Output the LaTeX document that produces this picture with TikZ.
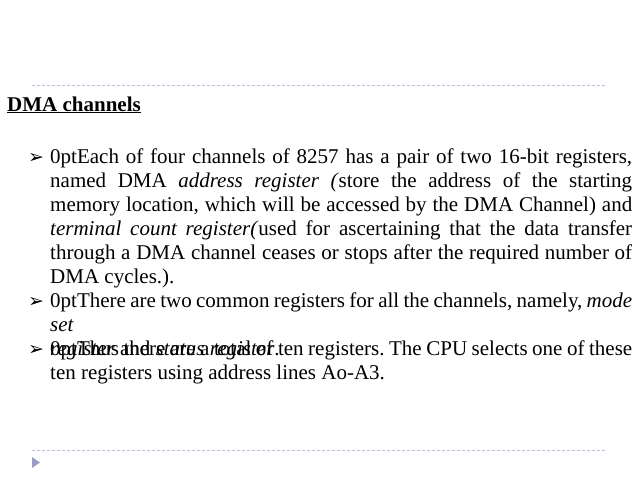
\documentclass[tikz,border=0pt]{standalone}
\usepackage{fontspec}
\setmainfont{Liberation Serif}
\newfontfamily\symfont{DejaVu Sans}
\begin{document}
\begin{tikzpicture}[x=1pt,y=-1pt,
  rule/.style={draw=blue!25!gray!40, dash pattern=on 3pt off 2pt, line width=0.8pt},
  para/.style={anchor=base west, inner sep=0pt, text width=582pt, align=justify, font=\fontsize{21}{24}\selectfont\frenchspacing\hyphenpenalty=10000\relax},
  bulletmark/.style={anchor=base west, inner sep=0pt, font=\fontsize{19}{24}\symfont}]
\useasboundingbox (0,0) rectangle (638,493);
\coordinate (t1) at (32,85); \coordinate (t2) at (605,85);
\draw[rule] (t1) -- (t2);
\coordinate (b1) at (32,450); \coordinate (b2) at (605,450);
\draw[rule] (b1) -- (b2);
\fill[fill=blue!30!gray!60] (32,457) -- (40,462.5) -- (32,468) -- cycle;
\node[anchor=base west, inner sep=0pt, font=\fontsize{21}{24}\selectfont\bfseries] (h) at (7,111) {\underline{DMA channels}};
\node[bulletmark] (m1) at (28,163) {➢};
\node[para] (p1) at (50,163) {Each of four channels of 8257 has a pair of two 16-bit registers,\linebreak named DMA \textit{address register (}store the address of the starting\linebreak memory location, which will be accessed by the DMA Channel) and\linebreak \textit{terminal count register(}used for ascertaining that the data transfer\linebreak through a DMA channel ceases or stops after the required number of\linebreak DMA cycles.).};
\node[bulletmark] (m2) at (28,307) {➢};
\node[para] (p2) at (50,307) {There are two common registers for all the channels, namely, \textit{mode set}\linebreak \textit{register} and \textit{status register}.};
\node[bulletmark] (m3) at (28,355) {➢};
\node[para] (p3) at (50,355) {Thus there are a total of ten registers. The CPU selects one of these\linebreak ten registers using address lines Ao-A3.};
\end{tikzpicture}
\end{document}
